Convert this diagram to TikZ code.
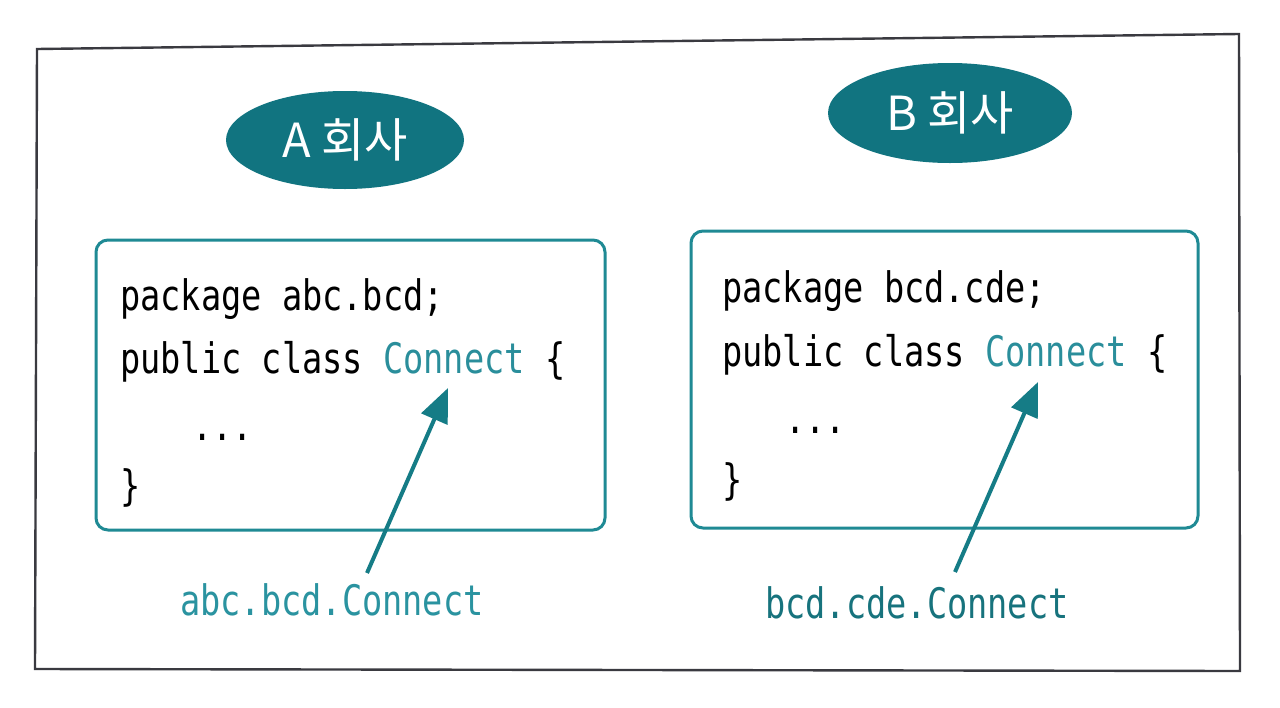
\documentclass[tikz,border=0pt]{standalone}
\usepackage{fontspec}
\newfontfamily\codefont[FakeStretch=0.80]{DejaVu Sans Mono}
\newfontfamily\krfont{Noto Sans CJK KR}
\usetikzlibrary{arrows.meta,shapes.geometric}
\definecolor{tealdark}{HTML}{117480}
\definecolor{tealbox}{HTML}{1F8A94}
\definecolor{tealtext}{HTML}{2A8E9B}
\definecolor{tealarrow}{HTML}{157C86}
\definecolor{labelA}{HTML}{2A93A0}
\definecolor{labelB}{HTML}{17737D}
\definecolor{framecol}{HTML}{3A3A40}
\tikzset{
  frame/.style={draw=framecol, line width=2.4pt},
  company/.style={ellipse, fill=tealdark, text=white, inner sep=0pt,
    minimum width=238pt, minimum height=98pt, font=\krfont\fontsize{47}{52}\selectfont},
  codebox/.style={draw=tealbox, line width=3pt, rounded corners=12pt},
  codeline/.style={anchor=base west, inner sep=0pt, font=\codefont\fontsize{42}{48}\selectfont},
  pathlabel/.style={anchor=base west, inner sep=0pt, font=\codefont\fontsize{42}{48}\selectfont},
  pointer/.style={draw=tealarrow, line width=4pt, -{Triangle[length=34pt,width=28pt]}}
}
\begin{document}
\begin{tikzpicture}[x=1pt,y=-1pt]
\useasboundingbox (0,0) rectangle (1280,707);
\fill[white] (0,0) rectangle (1280,707);
% outer frame
\coordinate (f1) at (37,49);
\coordinate (f2) at (1239,34);
\coordinate (f3) at (1240,671);
\coordinate (f4) at (35,669);
\draw[frame] (f1) -- (f2) -- (f3) -- (f4) -- cycle;
% companies
\node[company] (compA) at (345,140) {A 회사};
\node[company, minimum width=244pt, minimum height=100pt] (compB) at (950,113) {B 회사};
% code boxes
\draw[codebox] (96,240) rectangle (605,530);
\draw[codebox] (691,231) rectangle (1198,528);
% code A
\node[codeline] (a1) at (120,310) {package abc.bcd;};
\node[codeline] (a2) at (120,373) {public class \textcolor{tealtext}{Connect} \{};
\node[codeline] (a3) at (192,440) {...};
\node[codeline] (a4) at (120,500) {\}};
% code B
\node[codeline] (b1) at (722,302) {package bcd.cde;};
\node[codeline] (b2) at (722,366) {public class \textcolor{tealtext}{Connect} \{};
\node[codeline] (b3) at (785,433) {...};
\node[codeline] (b4) at (722,494) {\}};
% labels
\node[pathlabel, text=labelA] (la) at (180,615) {abc.bcd.Connect};
\node[pathlabel, text=labelB] (lb) at (765,618) {bcd.cde.Connect};
% arrows
\coordinate (tA) at (367,573);
\coordinate (hA) at (448,388);
\coordinate (tB) at (955,572);
\coordinate (hB) at (1038,382);
\draw[pointer] (tA) -- (hA);
\draw[pointer] (tB) -- (hB);
\end{tikzpicture}
\end{document}
